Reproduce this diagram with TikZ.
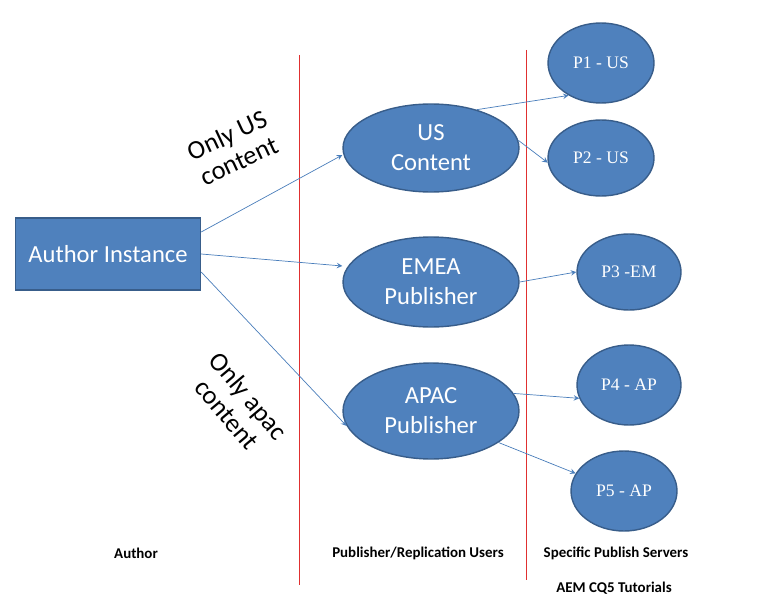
\documentclass[tikz,border=0pt]{standalone}
\usepackage{fontspec}
\setmainfont{Carlito}
\newfontfamily\serifp{Liberation Serif}
\usetikzlibrary{shapes.geometric,positioning}
\definecolor{boxblue}{HTML}{4F81BD}
\definecolor{boxline}{HTML}{385D8A}
\definecolor{arrowblue}{HTML}{4A7EBB}
\definecolor{sepred}{HTML}{E03030}
\begin{document}
\begin{tikzpicture}[x=0.02cm,y=-0.02cm]
% style des nœuds
\tikzstyle{pub}=[ellipse,draw=boxline,thick,fill=boxblue,text=white,align=center,inner sep=0pt,font=\fontsize{14}{17}\selectfont,minimum width=3.52cm,minimum height=1.76cm]
\tikzstyle{srv}=[ellipse,draw=boxline,thick,fill=boxblue,text=white,inner sep=0pt,font=\serifp\fontsize{10}{12}\selectfont,minimum width=2.12cm,minimum height=1.56cm]
\tikzstyle{link}=[->,>=stealth,arrowblue]
\tikzstyle{foot}=[font=\bfseries\fontsize{8.5}{10}\selectfont]
\useasboundingbox (0,0) rectangle (773,611);
% lignes de séparation
\draw[sepred] (299,55) -- (299,585);
\draw[sepred] (526,50) -- (526,580);
% placement des nœuds
\node[rectangle,draw=boxline,thick,fill=boxblue,text=white,minimum width=3.7cm,minimum height=1.44cm,font=\fontsize{14}{17}\selectfont] (author) at (108,254) {Author Instance};
\node[pub] (us) at (431,148) {US\\Content};
\node[pub,minimum height=1.8cm] (emea) at (431,282) {EMEA\\Publisher};
\node[pub,minimum height=1.92cm] (apac) at (431,411) {APAC\\Publisher};
\node[srv,minimum height=1.6cm] (p1) at (601,63) {P1 - US};
\node[srv,minimum height=1.52cm] (p2) at (601,158) {P2 - US};
\node[srv,minimum width=2.08cm,minimum height=1.52cm] (p3) at (629,272) {P3 -EM};
\node[srv,minimum width=2.08cm,minimum height=1.6cm] (p4) at (629,385) {P4 - AP};
\node[srv,minimum height=1.6cm] (p5) at (624,491) {P5 - AP};
% étiquettes
\node[rotate=25,align=center,font=\fontsize{15}{16}\selectfont] (onlyus) at (233,148) {Only US\\content};
\node[rotate=-50,align=center,font=\fontsize{15}{16}\selectfont] (onlyap) at (238,405) {Only apac\\content};
\node[foot] (fa) at (136,553) {Author};
\node[foot] (fp) at (418,553) {Publisher/Replication Users};
\node[foot] (fs) at (616,553) {Specific Publish Servers};
\node[foot] (ft) at (614,588) {AEM CQ5 Tutorials};
% placement des flèches
\draw[link] (author.east |- 0,232) -- (us.west |- 0,155);
\draw[link] (author.east |- 0,254) -- (emea.west |- 0,266);
\draw[link] (author.east |- 0,272) -- (apac.180+10);
\draw[link] (us.40) -- (p1.225);
\draw[link] (us.5) -- (p2.185);
\draw[link] (emea.east) -- (p3.west |- 0,272);
\draw[link] (apac.12) -- (p4.195);
\draw[link] (apac.-25) -- (p5.160);
\end{tikzpicture}
\end{document}
